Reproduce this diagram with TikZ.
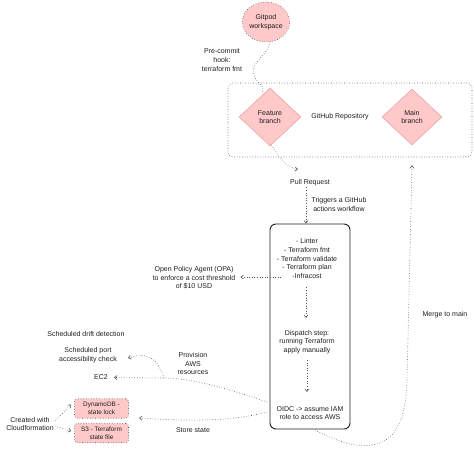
\documentclass[tikz,border=0pt]{standalone}
\usepackage{fontspec}
\setmainfont{Liberation Sans}
\usetikzlibrary{shapes.geometric,arrows.meta}
\definecolor{pinkfill}{HTML}{FFC9C9}
\definecolor{pinkedge}{HTML}{E3A0A0}
\definecolor{ink}{HTML}{1E1E1E}
\begin{document}
\begin{tikzpicture}[x=1pt,y=-1pt,
  txt/.style={font=\fontsize{7}{8.6}\selectfont, text=ink, align=center, inner sep=1pt},
  conn/.style={draw=ink!75, dotted, line width=0.6pt},
  arr/.style={conn, -{Straight Barb[length=2.5pt,width=4pt]}},
  pinkdia/.style={txt, diamond, draw=pinkedge, line width=0.5pt, fill=pinkfill, inner sep=0pt, minimum width=62pt, minimum height=58pt},
  pinkbox/.style={txt, font=\fontsize{6.4}{8}\selectfont, rectangle, rounded corners=3pt, draw=ink!80, dotted, line width=0.6pt, fill=pinkfill, minimum width=54pt, minimum height=19.5pt, inner sep=0pt}
]
\useasboundingbox (0,0) rectangle (474,452);

% top
\node[txt, ellipse, draw=ink!80, dotted, line width=0.6pt, fill=pinkfill, minimum width=47pt, minimum height=40pt, inner sep=0pt] (gitpod) at (266,22) {Gitpod\\workspace};
\node[txt] (precommit) at (222,60) {Pre-commit\\hook:\\terraform fmt};

% repository box
\node[rectangle, rounded corners=5pt, draw=ink!80, dotted, line width=0.6pt, minimum width=244pt, minimum height=74pt] (repo) at (350,120) {};
\node[txt] (repolabel) at (340,117) {GitHub Repository};

\node[txt] (pr) at (310,183) {Pull Request};

% curve from gitpod through feature branch to pull request
\coordinate (fin) at (262,86);
\coordinate (fout) at (270,142);
\draw[arr] (gitpod.-78) .. controls (266,60) and (240,66) .. (fin) -- (fout) .. controls (278,158) and (288,168) .. ([xshift=-12pt,yshift=9pt]pr.north);

\node[pinkdia] (feature) at (270,117) {Feature\\branch};
\node[pinkdia, minimum width=60pt, minimum height=56pt] (main) at (412,117) {Main\\branch};

% workflow box
\node[rectangle, rounded corners=6pt, draw=ink, line width=0.9pt, minimum width=80pt, minimum height=205pt] (wf) at (310,326.5) {};
\draw[arr] ([xshift=-4pt]pr.south) -- ([xshift=-4pt]wf.north);
\node[txt] (triglabel) at (339,204.5) {Triggers a GitHub\\actions workflow};

\node[txt] (checks) at (307,258.5) {- Linter\\- Terraform fmt\\- Terraform validate\\- Terraform plan\\-Infracost};
\node[txt] (dispatch) at (307,342) {Dispatch step:\\running Terraform\\apply manually};
\node[txt] (oidc) at (310,413) {OIDC -> assume IAM\\role to access AWS};
\draw[arr] ([xshift=-1pt,yshift=-8pt]checks.south) -- ([xshift=-1pt,yshift=11pt]dispatch.north);
\draw[arr] ([yshift=-5pt]dispatch.south) -- ([xshift=-3pt,yshift=13pt]oidc.north);

% OPA
\node[txt] (opa) at (194,278) {Open Policy Agent (OPA)\\to enforce a cost threshold\\of \$10 USD};
\coordinate (infra) at (281,277);
\draw[arr] (infra) -- ([xshift=4pt,yshift=1pt]opa.east);

% AWS side
\node[txt] (drift) at (86,334) {Scheduled drift detection};
\node[txt] (port) at (88,355) {Scheduled port\\accessibility check};
\node[txt] (ec2) at (101,377.5) {EC2};
\node[txt] (prov) at (193,363.5) {Provision\\AWS\\resources};
\coordinate (oidcA) at (267,402);
\coordinate (branch) at (164,378);
\draw[arr] (oidcA) .. controls (215,384) and (185,378) .. (branch) -- ([xshift=5pt]ec2.east);
\draw[arr] (branch) .. controls (158,360) and (150,351) .. ([xshift=10pt,yshift=-3pt]port.east);

\node[pinkbox] (dynamo) at (101.5,408.5) {DynamoDB -\\state lock};
\node[pinkbox] (s3) at (101.5,433) {S3 - Terraform\\state file};
\node[txt] (created) at (30,424) {Created with\\Cloudformation};
\draw[arr] ([yshift=3pt]created.east) -- ([xshift=-3pt,yshift=4pt]dynamo.west);
\draw[arr] ([yshift=-2pt]created.east) -- ([xshift=-3pt,yshift=2pt]s3.west);

\coordinate (oidcB) at (267,412);
\coordinate (storeend) at (139,418);
\draw[arr] (oidcB) .. controls (230,422) and (185,421) .. (storeend);
\node[txt] (store) at (193,430) {Store state};

% merge to main
\coordinate (wfbot) at (315,430);
\coordinate (mergeturn) at (390,437);
\draw[arr] (wfbot) .. controls (345,446) and (372,452) .. (mergeturn) .. controls (404,422) and (406,402) .. (407,380) -- ([yshift=-8pt]repo.south -| main.south);
\node[txt] (merge) at (445,315) {Merge to main};
\end{tikzpicture}
\end{document}
